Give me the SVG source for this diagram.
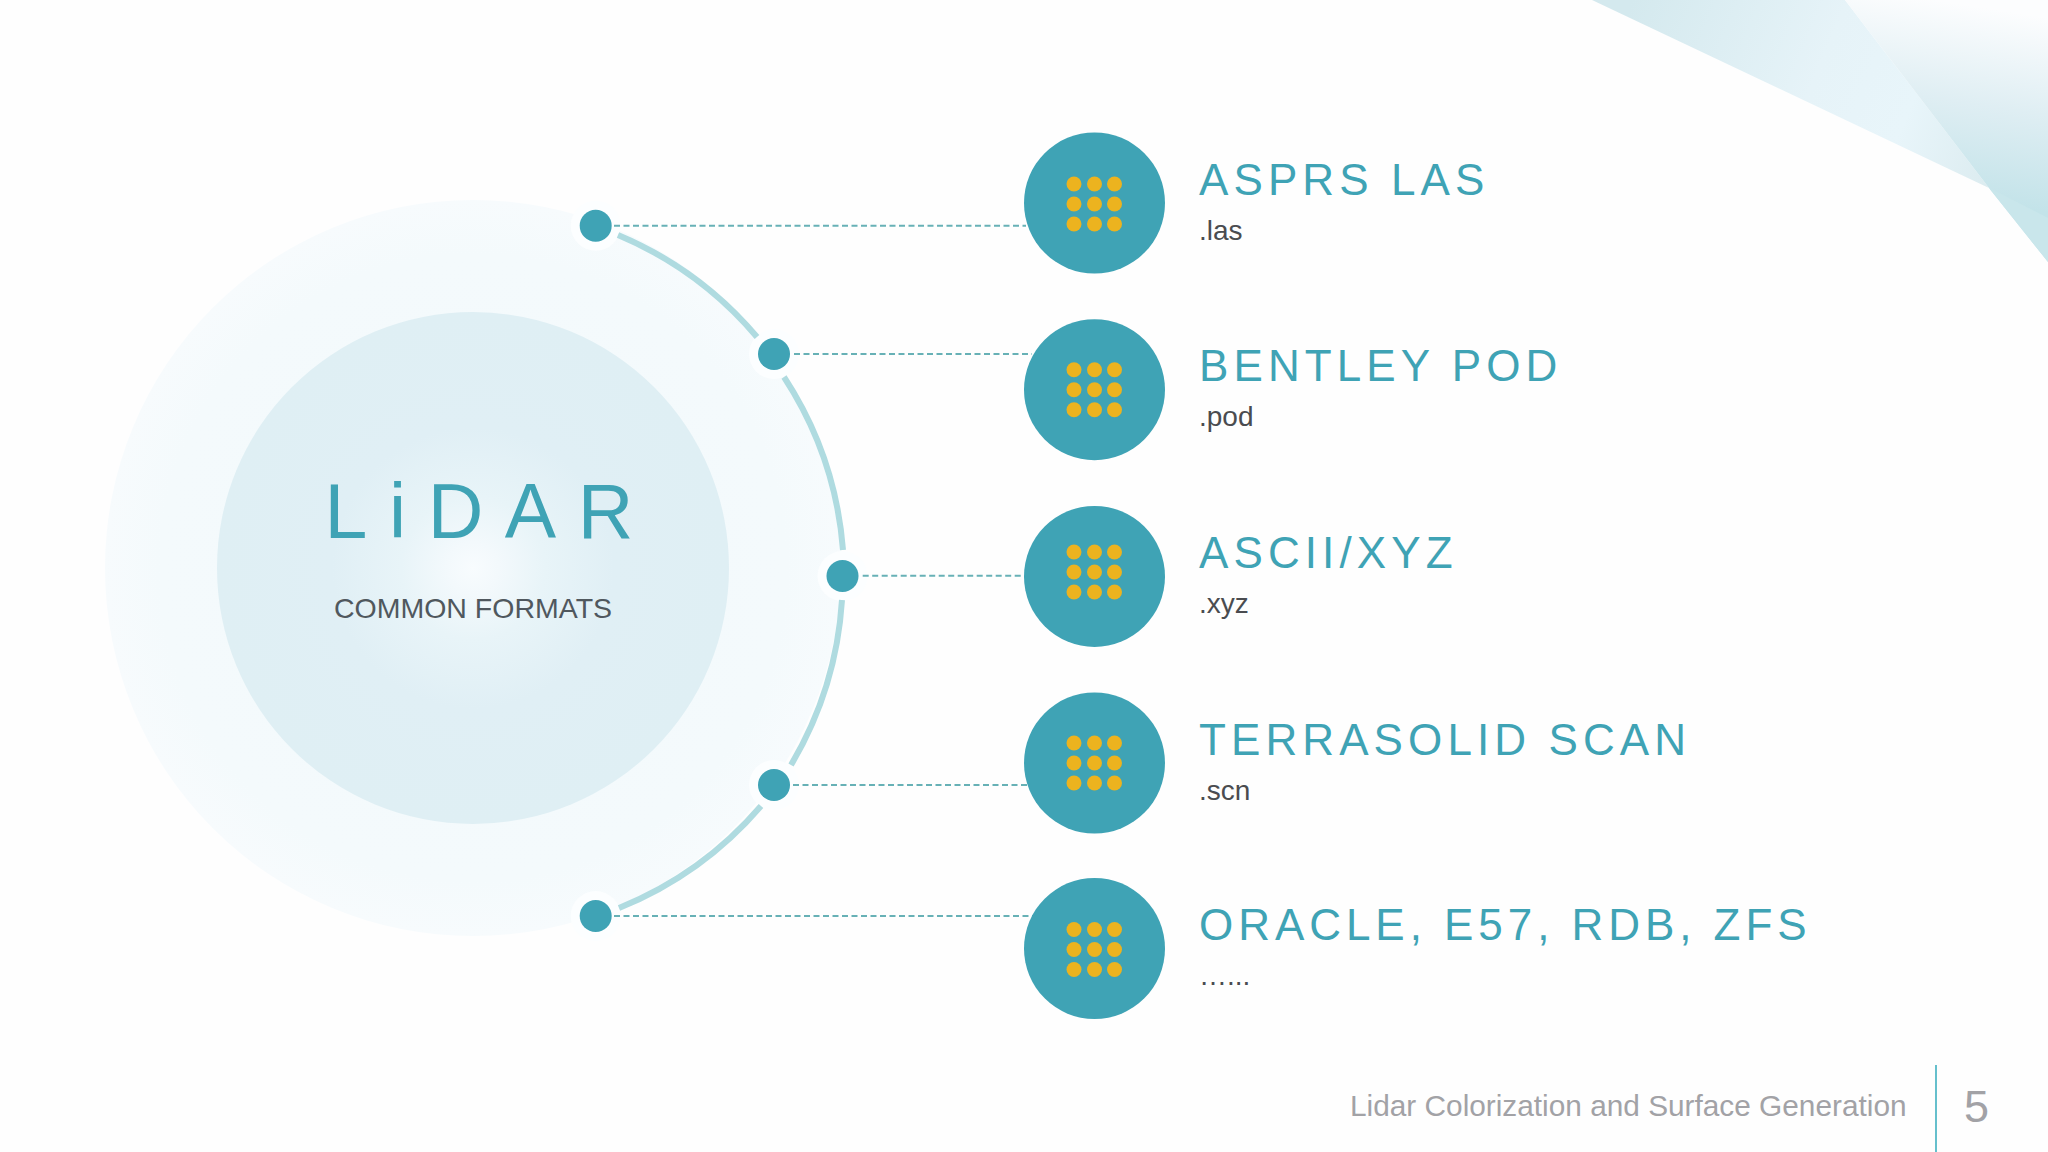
<svg xmlns="http://www.w3.org/2000/svg" width="2048" height="1152" viewBox="0 0 2048 1152">
<style>
text{font-family:"Liberation Sans",Arial,sans-serif}
.head{font-size:44px;letter-spacing:5.1px;fill:#3fa3b5}
.sub{font-size:28px;fill:#4a4c50}
.badge{fill:#3fa3b5}
.grid{fill:#ecb31f}
.dash{fill:none;stroke:#67b1b6;stroke-width:1.9;stroke-dasharray:6 3.5}
.arc{fill:none;stroke:#afdbe0;stroke-width:6}
.halo{fill:#fcfeff}
</style>
<defs>
<radialGradient id="inner" cx="473" cy="568" r="256" gradientUnits="userSpaceOnUse">
<stop offset="0" stop-color="#f8fcfe"/><stop offset="0.1" stop-color="#f3f9fc"/><stop offset="0.28" stop-color="#e8f4f8"/><stop offset="0.55" stop-color="#e0eff5"/><stop offset="1" stop-color="#dfeff4"/>
</radialGradient>
<radialGradient id="outer" cx="473" cy="568" r="368" gradientUnits="userSpaceOnUse">
<stop offset="0" stop-color="#f3f9fc"/><stop offset="0.85" stop-color="#f4fafc"/><stop offset="1" stop-color="#f7fbfd"/>
</radialGradient>
<linearGradient id="facetA" x1="1620" y1="30" x2="1985" y2="185" gradientUnits="userSpaceOnUse">
<stop offset="0" stop-color="#d4e9ee"/><stop offset="0.5" stop-color="#e6f3f8"/><stop offset="0.75" stop-color="#e8f5fa"/><stop offset="1" stop-color="#dcecf0"/>
</linearGradient>
<linearGradient id="facetB" x1="2000" y1="205" x2="2030" y2="15" gradientUnits="userSpaceOnUse">
<stop offset="0" stop-color="#c3e3e9"/><stop offset="0.5" stop-color="#dfeef3"/><stop offset="1" stop-color="#fcfdfe"/>
</linearGradient>
<g id="dots">
<circle cx="-20.5" cy="-20" r="7.5"/><circle cx="0" cy="-20" r="7.5"/><circle cx="20" cy="-20" r="7.5"/>
<circle cx="-20.5" cy="0" r="7.5"/><circle cx="0" cy="0" r="7.5"/><circle cx="20" cy="0" r="7.5"/>
<circle cx="-20.5" cy="20" r="7.5"/><circle cx="0" cy="20" r="7.5"/><circle cx="20" cy="20" r="7.5"/>
</g>
</defs>
<rect width="2048" height="1152" fill="#fefefe"/>
<g id="corner">
<polygon points="1592,0 1845,0 1989,188" fill="url(#facetA)"/>
<polygon points="1845,0 2048,0 2048,262 1989,188" fill="url(#facetB)"/>
<polygon points="2007,197 2048,218 2048,262 1989,188" fill="#c9e6eb"/>
</g>
<g id="hub">
<circle cx="473" cy="568" r="368" fill="url(#outer)"/>
<circle cx="473" cy="568" r="256" fill="url(#inner)"/>
<text x="324.5" y="538" font-size="77" letter-spacing="21.6" fill="#3fa3b5">LiDAR</text>
<text x="473" y="618" font-size="28.5" fill="#50585e" text-anchor="middle">COMMON FORMATS</text>
</g>
<g id="joint-1"><circle class="halo" cx="595.7" cy="225.7" r="25"/><circle class="badge" cx="595.7" cy="225.7" r="16"/></g>
<g id="joint-2"><circle class="halo" cx="774" cy="354" r="25"/><circle class="badge" cx="774" cy="354" r="16"/></g>
<g id="joint-3"><circle class="halo" cx="842.5" cy="576" r="25"/><circle class="badge" cx="842.5" cy="576" r="16"/></g>
<g id="joint-4"><circle class="halo" cx="774" cy="785" r="25"/><circle class="badge" cx="774" cy="785" r="16"/></g>
<g id="joint-5"><circle class="halo" cx="595.7" cy="916" r="25"/><circle class="badge" cx="595.7" cy="916" r="16"/></g>
<g id="connectors">
<path class="arc" d="M618,235 A369,369 0 0 1 757,337"/>
<path class="arc" d="M784,377 A369,369 0 0 1 843,550"/>
<path class="arc" d="M842,600 A369,369 0 0 1 791,765"/>
<path class="arc" d="M761,806 A369,369 0 0 1 619,908"/>
<path class="dash" d="M614,225.7H1026"/>
<path class="dash" d="M794,354H1032"/>
<path class="dash" d="M862.7,575.7H1024"/>
<path class="dash" d="M793,785H1032"/>
<path class="dash" d="M614,916H1033"/>
</g>
<g id="node-las">
<circle class="badge" cx="1094.5" cy="203" r="70.5"/><use href="#dots" class="grid" x="1094.5" y="204"/>
<text class="head" x="1199" y="195">ASPRS LAS</text><text class="sub" x="1199" y="239.5">.las</text>
</g>
<g id="node-pod">
<circle class="badge" cx="1094.5" cy="389.7" r="70.5"/><use href="#dots" class="grid" x="1094.5" y="389.7"/>
<text class="head" x="1199" y="381">BENTLEY POD</text><text class="sub" x="1199" y="426">.pod</text>
</g>
<g id="node-xyz">
<circle class="badge" cx="1094.5" cy="576.4" r="70.5"/><use href="#dots" class="grid" x="1094.5" y="572"/>
<text class="head" x="1199" y="568">ASCII/XYZ</text><text class="sub" x="1199" y="613">.xyz</text>
</g>
<g id="node-scn">
<circle class="badge" cx="1094.5" cy="763" r="70.5"/><use href="#dots" class="grid" x="1094.5" y="763"/>
<text class="head" x="1199" y="755">TERRASOLID SCAN</text><text class="sub" x="1199" y="800">.scn</text>
</g>
<g id="node-more">
<circle class="badge" cx="1094.5" cy="948.5" r="70.5"/><use href="#dots" class="grid" x="1094.5" y="949.5"/>
<text class="head" x="1199" y="940" style="letter-spacing:4.95px">ORACLE, E57, RDB, ZFS</text><text class="sub" x="1199" y="985">…...</text>
</g>
<g id="footer">
<text x="1350" y="1116" font-size="29.8" fill="#a2a2a6">Lidar Colorization and Surface Generation</text>
<path d="M1936,1065V1152" stroke="#3fb0c0" stroke-width="1.6"/>
<text x="1964" y="1122" font-size="45" fill="#a2a2a6">5</text>
</g>
</svg>
